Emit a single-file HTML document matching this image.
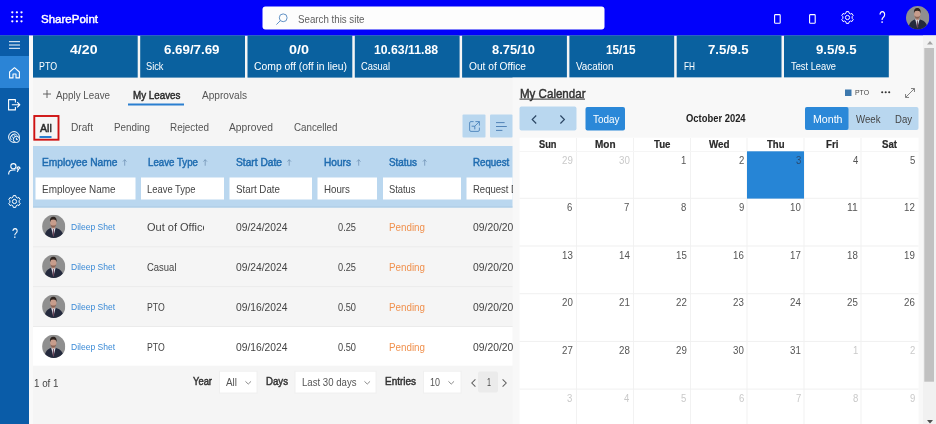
<!DOCTYPE html>
<html><head><meta charset="utf-8"><title>SharePoint</title>
<style>
html,body{margin:0;padding:0}
body{width:936px;height:424px;overflow:hidden;background:#f5f5f5;font-family:"Liberation Sans", sans-serif;position:relative}
.t{position:absolute;white-space:nowrap;line-height:1;transform-origin:left center}
svg{overflow:visible}
</style></head><body>
<svg width="0" height="0" style="position:absolute"><defs>
<clipPath id="avc"><circle cx="11.5" cy="11.5" r="11.5"/></clipPath>
</defs></svg>

<svg style="position:absolute;left:0;top:0" width="936" height="424" viewBox="0 0 936 424">
<rect x="0" y="0" width="936" height="35.6" fill="#0101fb" rx="0"/>
<rect x="262.5" y="6.5" width="342.0" height="23.0" fill="#fdfdfd" rx="3"/>
<rect x="0" y="35.3" width="29" height="388.7" fill="#0a5ca8" rx="0"/>
<rect x="0" y="56" width="29" height="32" fill="#2b84d6" rx="0"/>
<rect x="32.9" y="35.4" width="104.8" height="42.2" fill="#0a619f" rx="0"/>
<rect x="140.2" y="35.4" width="104.8" height="42.2" fill="#0a619f" rx="0"/>
<rect x="247.5" y="35.4" width="104.8" height="42.2" fill="#0a619f" rx="0"/>
<rect x="354.8" y="35.4" width="104.8" height="42.2" fill="#0a619f" rx="0"/>
<rect x="462.1" y="35.4" width="104.8" height="42.2" fill="#0a619f" rx="0"/>
<rect x="569.4" y="35.4" width="104.8" height="42.2" fill="#0a619f" rx="0"/>
<rect x="676.7" y="35.4" width="104.8" height="42.2" fill="#0a619f" rx="0"/>
<rect x="784.0" y="35.4" width="104.8" height="42.2" fill="#0a619f" rx="0"/>
<rect x="128" y="103.5" width="56" height="2.0" fill="#2b7fd0" rx="0"/>
<rect x="39.5" y="136" width="12.0" height="2" fill="#2b7fd0" rx="0"/>
<rect x="34.3" y="116" width="24.2" height="23.7" fill="none" stroke="#cf1212" stroke-width="1.9"/>
<rect x="512.5" y="77.6" width="410.5" height="346.4" fill="#f8f8f8" rx="0"/>
<rect x="889.5" y="35.6" width="33.5" height="42.0" fill="#f8f8f8" rx="0"/>
<rect x="29" y="35.6" width="4" height="388.4" fill="#f9f9f9" rx="0"/>
<rect x="462.5" y="114.5" width="23.0" height="23.0" fill="#b9d7ef" rx="1"/>
<rect x="490" y="114.5" width="22.5" height="23.0" fill="#b9d7ef" rx="1"/>
<rect x="33" y="146" width="479.5" height="61.5" fill="#bad7ef" rx="0"/>
<rect x="33" y="206.5" width="479.5" height="1.0" fill="#a9c9e4" rx="0"/>
<svg x="122.5" y="159.2" width="4.4" height="6.5" viewBox="0 0 4.4 6.5" fill="none" stroke="#6c8fb2" stroke-width="0.75"><path d="M2.2 0.5 V6.5 M0.4 2.4 L2.2 0.5 L4 2.4"/></svg>
<svg x="203" y="159.2" width="4.4" height="6.5" viewBox="0 0 4.4 6.5" fill="none" stroke="#6c8fb2" stroke-width="0.75"><path d="M2.2 0.5 V6.5 M0.4 2.4 L2.2 0.5 L4 2.4"/></svg>
<svg x="287" y="159.2" width="4.4" height="6.5" viewBox="0 0 4.4 6.5" fill="none" stroke="#6c8fb2" stroke-width="0.75"><path d="M2.2 0.5 V6.5 M0.4 2.4 L2.2 0.5 L4 2.4"/></svg>
<svg x="356.5" y="159.2" width="4.4" height="6.5" viewBox="0 0 4.4 6.5" fill="none" stroke="#6c8fb2" stroke-width="0.75"><path d="M2.2 0.5 V6.5 M0.4 2.4 L2.2 0.5 L4 2.4"/></svg>
<svg x="422.5" y="159.2" width="4.4" height="6.5" viewBox="0 0 4.4 6.5" fill="none" stroke="#6c8fb2" stroke-width="0.75"><path d="M2.2 0.5 V6.5 M0.4 2.4 L2.2 0.5 L4 2.4"/></svg>
<rect x="35.5" y="177.5" width="100.0" height="22.0" fill="#fff" rx="0"/>
<rect x="141" y="177.5" width="83" height="22.0" fill="#fff" rx="0"/>
<rect x="229.5" y="177.5" width="82.5" height="22.0" fill="#fff" rx="0"/>
<rect x="317.5" y="177.5" width="59.5" height="22.0" fill="#fff" rx="0"/>
<rect x="383" y="177.5" width="78" height="22.0" fill="#fff" rx="0"/>
<rect x="466.5" y="177.5" width="46.0" height="22.0" fill="#fff" rx="0"/>
<rect x="33" y="246.3" width="479.5" height="1.0" fill="#ebebeb" rx="0"/>
<svg x="42.1" y="214.8" width="23.2" height="23.2" viewBox="0 0 23 23"><g clip-path="url(#avc)">
<rect width="23" height="23" fill="#8f8f8f"/>
<path d="M2.2 23 C2.8 16.5 5.2 14.6 8.6 13.2 L11.2 12.4 L13.8 13.2 C17.6 14.4 20.6 16 21.6 23 Z" fill="#242a3d"/>
<path d="M9 12.8 L11.2 21.5 L13.4 12.8 Z" fill="#dfe0e8"/>
<path d="M10.8 14.2 L11.6 14.2 L12 20 L11.2 22 L10.5 20 Z" fill="#6a4458"/>
<rect x="9.6" y="10" width="3.2" height="3.6" fill="#b98a78"/>
<ellipse cx="11.1" cy="8" rx="3.1" ry="4.3" fill="#c89d8c"/>
<path d="M7.9 7.4 C7.4 3 9.4 1.9 11.2 1.9 C13.2 1.9 14.9 3.2 14.3 7.4 C13.9 5.4 13.2 4.7 11.1 4.7 C9 4.7 8.3 5.4 7.9 7.4 Z" fill="#2e2420"/>
<path d="M8.1 8.8 C8.5 11.8 9.8 12.5 11.1 12.5 C12.4 12.5 13.7 11.8 14.1 8.8 C13.4 10.3 12.4 10.6 11.1 10.6 C9.8 10.6 8.8 10.3 8.1 8.8 Z" fill="#6e4c40" opacity=".7"/>
</g></svg>
<rect x="33" y="286.1" width="479.5" height="1.0" fill="#ebebeb" rx="0"/>
<svg x="42.1" y="254.8" width="23.2" height="23.2" viewBox="0 0 23 23"><g clip-path="url(#avc)">
<rect width="23" height="23" fill="#8f8f8f"/>
<path d="M2.2 23 C2.8 16.5 5.2 14.6 8.6 13.2 L11.2 12.4 L13.8 13.2 C17.6 14.4 20.6 16 21.6 23 Z" fill="#242a3d"/>
<path d="M9 12.8 L11.2 21.5 L13.4 12.8 Z" fill="#dfe0e8"/>
<path d="M10.8 14.2 L11.6 14.2 L12 20 L11.2 22 L10.5 20 Z" fill="#6a4458"/>
<rect x="9.6" y="10" width="3.2" height="3.6" fill="#b98a78"/>
<ellipse cx="11.1" cy="8" rx="3.1" ry="4.3" fill="#c89d8c"/>
<path d="M7.9 7.4 C7.4 3 9.4 1.9 11.2 1.9 C13.2 1.9 14.9 3.2 14.3 7.4 C13.9 5.4 13.2 4.7 11.1 4.7 C9 4.7 8.3 5.4 7.9 7.4 Z" fill="#2e2420"/>
<path d="M8.1 8.8 C8.5 11.8 9.8 12.5 11.1 12.5 C12.4 12.5 13.7 11.8 14.1 8.8 C13.4 10.3 12.4 10.6 11.1 10.6 C9.8 10.6 8.8 10.3 8.1 8.8 Z" fill="#6e4c40" opacity=".7"/>
</g></svg>
<rect x="33" y="326" width="479.5" height="1" fill="#ebebeb" rx="0"/>
<svg x="42.1" y="294.8" width="23.2" height="23.2" viewBox="0 0 23 23"><g clip-path="url(#avc)">
<rect width="23" height="23" fill="#8f8f8f"/>
<path d="M2.2 23 C2.8 16.5 5.2 14.6 8.6 13.2 L11.2 12.4 L13.8 13.2 C17.6 14.4 20.6 16 21.6 23 Z" fill="#242a3d"/>
<path d="M9 12.8 L11.2 21.5 L13.4 12.8 Z" fill="#dfe0e8"/>
<path d="M10.8 14.2 L11.6 14.2 L12 20 L11.2 22 L10.5 20 Z" fill="#6a4458"/>
<rect x="9.6" y="10" width="3.2" height="3.6" fill="#b98a78"/>
<ellipse cx="11.1" cy="8" rx="3.1" ry="4.3" fill="#c89d8c"/>
<path d="M7.9 7.4 C7.4 3 9.4 1.9 11.2 1.9 C13.2 1.9 14.9 3.2 14.3 7.4 C13.9 5.4 13.2 4.7 11.1 4.7 C9 4.7 8.3 5.4 7.9 7.4 Z" fill="#2e2420"/>
<path d="M8.1 8.8 C8.5 11.8 9.8 12.5 11.1 12.5 C12.4 12.5 13.7 11.8 14.1 8.8 C13.4 10.3 12.4 10.6 11.1 10.6 C9.8 10.6 8.8 10.3 8.1 8.8 Z" fill="#6e4c40" opacity=".7"/>
</g></svg>
<rect x="33" y="327" width="479.5" height="38.7" fill="#fff" rx="0"/>
<svg x="42.1" y="334.8" width="23.2" height="23.2" viewBox="0 0 23 23"><g clip-path="url(#avc)">
<rect width="23" height="23" fill="#8f8f8f"/>
<path d="M2.2 23 C2.8 16.5 5.2 14.6 8.6 13.2 L11.2 12.4 L13.8 13.2 C17.6 14.4 20.6 16 21.6 23 Z" fill="#242a3d"/>
<path d="M9 12.8 L11.2 21.5 L13.4 12.8 Z" fill="#dfe0e8"/>
<path d="M10.8 14.2 L11.6 14.2 L12 20 L11.2 22 L10.5 20 Z" fill="#6a4458"/>
<rect x="9.6" y="10" width="3.2" height="3.6" fill="#b98a78"/>
<ellipse cx="11.1" cy="8" rx="3.1" ry="4.3" fill="#c89d8c"/>
<path d="M7.9 7.4 C7.4 3 9.4 1.9 11.2 1.9 C13.2 1.9 14.9 3.2 14.3 7.4 C13.9 5.4 13.2 4.7 11.1 4.7 C9 4.7 8.3 5.4 7.9 7.4 Z" fill="#2e2420"/>
<path d="M8.1 8.8 C8.5 11.8 9.8 12.5 11.1 12.5 C12.4 12.5 13.7 11.8 14.1 8.8 C13.4 10.3 12.4 10.6 11.1 10.6 C9.8 10.6 8.8 10.3 8.1 8.8 Z" fill="#6e4c40" opacity=".7"/>
</g></svg>
<rect x="219.5" y="371.2" width="37.5" height="21.8" fill="#fff" rx="0" stroke="#f0f0f0" stroke-width="1"/>
<rect x="295" y="371.2" width="81" height="21.8" fill="#fff" rx="0" stroke="#f0f0f0" stroke-width="1"/>
<rect x="423.5" y="371.2" width="37.5" height="21.8" fill="#fff" rx="0" stroke="#f0f0f0" stroke-width="1"/>
<rect x="478" y="371.5" width="20" height="21.0" fill="#ebebeb" rx="2"/>
<rect x="519.5" y="98.6" width="65.5" height="1.0" fill="#333" rx="0"/>
<rect x="845" y="89.5" width="6.5" height="6.5" fill="#3d78ad" rx="0"/>
<rect x="519.5" y="106.5" width="57.0" height="24.0" fill="#b9d7ef" rx="2"/>
<rect x="585.5" y="107" width="39.5" height="23.5" fill="#2b88d8" rx="2"/>
<rect x="805" y="107" width="113.5" height="23" fill="#b9d7ef" rx="2"/>
<rect x="805" y="107" width="43.5" height="23" fill="#2b88d8" rx="2"/>
<rect x="519.6" y="137.7" width="398.9" height="286.3" fill="#fff" rx="0"/>
<rect x="576.0" y="138" width="1.0" height="286" fill="#f2f2f2" rx="0"/>
<rect x="633.0" y="138" width="1.0" height="286" fill="#f2f2f2" rx="0"/>
<rect x="690.0" y="138" width="1.0" height="286" fill="#f2f2f2" rx="0"/>
<rect x="746.5" y="138" width="1.0" height="286" fill="#f2f2f2" rx="0"/>
<rect x="803.5" y="138" width="1.0" height="286" fill="#f2f2f2" rx="0"/>
<rect x="860.5" y="138" width="1.0" height="286" fill="#f2f2f2" rx="0"/>
<rect x="519.6" y="151.0" width="398.9" height="1.0" fill="#f5f5f5" rx="0"/>
<rect x="519.6" y="197.8" width="398.9" height="1.0" fill="#f0f0f0" rx="0"/>
<rect x="519.6" y="245.5" width="398.9" height="1.0" fill="#f0f0f0" rx="0"/>
<rect x="519.6" y="293.2" width="398.9" height="1.0" fill="#f0f0f0" rx="0"/>
<rect x="519.6" y="340.9" width="398.9" height="1.0" fill="#f0f0f0" rx="0"/>
<rect x="519.6" y="388.6" width="398.9" height="1.0" fill="#f0f0f0" rx="0"/>
<rect x="747" y="151.3" width="57" height="47.3" fill="#2685d6" rx="0"/>
<rect x="923" y="35.3" width="13" height="388.7" fill="#f1f1f1" rx="0"/>
<rect x="924.3" y="48" width="9.7" height="333.7" fill="#c1c1c1" rx="0"/>
</svg>
<!-- waffle -->
<svg style="position:absolute;left:11.4px;top:10.9px" width="12" height="12" viewBox="0 0 12 12" fill="#fff">
<circle cx="1.3" cy="1.3" r="1.15"/><circle cx="5.9" cy="1.3" r="1.15"/><circle cx="10.5" cy="1.3" r="1.15"/>
<circle cx="1.3" cy="5.8" r="1.15"/><circle cx="5.9" cy="5.8" r="1.15"/><circle cx="10.5" cy="5.8" r="1.15"/>
<circle cx="1.3" cy="10.3" r="1.15"/><circle cx="5.9" cy="10.3" r="1.15"/><circle cx="10.5" cy="10.3" r="1.15"/>
</svg>
<!-- search -->
<svg style="position:absolute;left:276px;top:12.5px" width="12" height="12" viewBox="0 0 12 12" fill="none" stroke="#5a8cc2" stroke-width="0.95">
<circle cx="7.2" cy="4.8" r="3.9"/><path d="M4.4 7.6 L0.4 11.6"/>
</svg>
<!-- top right -->
<svg style="position:absolute;left:774.3px;top:13.5px" width="7" height="10" viewBox="0 0 7 10" fill="none" stroke="#fff" stroke-width="1.1"><rect x="0.6" y="0.6" width="5.6" height="8.6" rx="0.8"/></svg>
<svg style="position:absolute;left:809.2px;top:13.5px" width="7" height="10" viewBox="0 0 7 10" fill="none" stroke="#fff" stroke-width="1.1"><rect x="0.6" y="0.6" width="5.6" height="8.6" rx="0.8"/></svg>
<svg style="position:absolute;left:841.1px;top:10.5px" width="13" height="13" viewBox="-6.5 -6.5 13 13" fill="none" stroke="#fff" stroke-width="1"><circle r="2.1"/><path d="M-1.2 -5.9 L1.2 -5.9 L1.6 -4.3 L3.0 -3.5 L4.5 -4.0 L5.7 -1.9 L4.6 -0.8 L4.6 0.8 L5.7 1.9 L4.5 4.0 L3.0 3.5 L1.6 4.3 L1.2 5.9 L-1.2 5.9 L-1.6 4.3 L-3.0 3.5 L-4.5 4.0 L-5.7 1.9 L-4.6 0.8 L-4.6 -0.8 L-5.7 -1.9 L-4.5 -4.0 L-3.0 -3.5 L-1.6 -4.3 Z" stroke-linejoin="round"/></svg>

<svg style="position:absolute;left:906.3px;top:6.2px" width="23.4" height="23.4" viewBox="0 0 23 23"><g clip-path="url(#avc)">
<rect width="23" height="23" fill="#8f8f8f"/>
<path d="M2.2 23 C2.8 16.5 5.2 14.6 8.6 13.2 L11.2 12.4 L13.8 13.2 C17.6 14.4 20.6 16 21.6 23 Z" fill="#242a3d"/>
<path d="M9 12.8 L11.2 21.5 L13.4 12.8 Z" fill="#dfe0e8"/>
<path d="M10.8 14.2 L11.6 14.2 L12 20 L11.2 22 L10.5 20 Z" fill="#6a4458"/>
<rect x="9.6" y="10" width="3.2" height="3.6" fill="#b98a78"/>
<ellipse cx="11.1" cy="8" rx="3.1" ry="4.3" fill="#c89d8c"/>
<path d="M7.9 7.4 C7.4 3 9.4 1.9 11.2 1.9 C13.2 1.9 14.9 3.2 14.3 7.4 C13.9 5.4 13.2 4.7 11.1 4.7 C9 4.7 8.3 5.4 7.9 7.4 Z" fill="#2e2420"/>
<path d="M8.1 8.8 C8.5 11.8 9.8 12.5 11.1 12.5 C12.4 12.5 13.7 11.8 14.1 8.8 C13.4 10.3 12.4 10.6 11.1 10.6 C9.8 10.6 8.8 10.3 8.1 8.8 Z" fill="#6e4c40" opacity=".7"/>
</g></svg>
<!-- sidebar -->
<svg style="position:absolute;left:8.5px;top:41px" width="11" height="8" viewBox="0 0 11 8" stroke="#fff" stroke-width="1"><path d="M0 0.7H11M0 4H11M0 7.3H11"/></svg>
<svg style="position:absolute;left:9px;top:66.5px" width="11" height="11.5" viewBox="0 0 11 11.5" fill="none" stroke="#fff" stroke-width="1.1" stroke-linejoin="round"><path d="M0.6 5 L5.5 0.7 L10.4 5 V10.9 H7 V7 H4 V10.9 H0.6 Z"/></svg>
<svg style="position:absolute;left:8px;top:98.5px" width="12.5" height="11.5" viewBox="0 0 12.5 11.5" fill="none" stroke="#fff" stroke-width="1.1" stroke-linejoin="round"><path d="M7.4 3.4 V0.6 H0.6 V10.9 H7.4 V8.1"/><path d="M3.8 5.75 H11.6 M9.2 3.2 L11.8 5.75 L9.2 8.3"/></svg>
<svg style="position:absolute;left:8px;top:131.2px" width="12.5" height="12.5" viewBox="0 0 12.5 12.5" fill="none" stroke="#fff" stroke-width="1"><circle cx="6" cy="6" r="5.4"/><path d="M3.2 9 A3.7 3.7 0 1 1 9.4 4.6" stroke-width="0.9"/><path d="M4.6 6.6 A1.6 1.6 0 1 1 7 4.8" stroke-width="0.8"/><circle cx="8.4" cy="8.4" r="3.1" fill="#0a5ca8"/><path d="M8.4 6.8 V8.6 H9.8"/></svg>
<svg style="position:absolute;left:8px;top:163px" width="13" height="12" viewBox="0 0 13 12" fill="none" stroke="#fff" stroke-width="1.1"><circle cx="5.4" cy="3.2" r="2.6"/><path d="M0.7 11.6 V10.6 C0.8 8.2 2.4 7 5.2 7 H7.6"/><path d="M10.9 5.6 L9.2 9 M11.6 6.2 A1.4 1.4 0 1 0 9.6 6.4" stroke-width="1.2"/></svg>
<svg style="position:absolute;left:8px;top:194.5px" width="13" height="13" viewBox="-6.5 -6.5 13 13" fill="none" stroke="#fff" stroke-width="1"><circle r="2.1"/><path d="M-1.2 -5.9 L1.2 -5.9 L1.6 -4.3 L3.0 -3.5 L4.5 -4.0 L5.7 -1.9 L4.6 -0.8 L4.6 0.8 L5.7 1.9 L4.5 4.0 L3.0 3.5 L1.6 4.3 L1.2 5.9 L-1.2 5.9 L-1.6 4.3 L-3.0 3.5 L-4.5 4.0 L-5.7 1.9 L-4.6 0.8 L-4.6 -0.8 L-5.7 -1.9 L-4.5 -4.0 L-3.0 -3.5 L-1.6 -4.3 Z" stroke-linejoin="round"/></svg>
<!-- plus -->
<svg style="position:absolute;left:43px;top:90px" width="8" height="8" viewBox="0 0 8 8" stroke="#555" stroke-width="0.9"><path d="M4 0V8M0 4H8"/></svg>
<!-- icon buttons -->
<svg style="position:absolute;left:468.5px;top:120.5px" width="11" height="11" viewBox="0 0 11 11" fill="none" stroke="#467fb8" stroke-width="0.85"><path d="M4.6 0.6 H2 Q0.6 0.6 0.6 2 V9 Q0.6 10.4 2 10.4 H9 Q10.4 10.4 10.4 9 V6.6"/><path d="M6.4 0.6 H10.4 V4.6 M10.4 0.6 L5.6 5.4"/><path d="M2.6 5.2 H5.8 V8.4" stroke-width="0.9"/></svg>
<svg style="position:absolute;left:496px;top:121.5px" width="11" height="9" viewBox="0 0 11 9" stroke="#3f74ac" stroke-width="0.85"><path d="M0 0.6H8.6M0 4.5H10.8M0 8.4H6.4"/></svg>
<!-- calendar chevrons -->
<svg style="position:absolute;left:530.5px;top:114.8px" width="7" height="9" viewBox="0 0 7 9" fill="none" stroke="#2b4563" stroke-width="1.15"><path d="M5.2 0.5 L1.2 4.5 L5.2 8.5"/></svg>
<svg style="position:absolute;left:559.3px;top:114.8px" width="7" height="9" viewBox="0 0 7 9" fill="none" stroke="#2b4563" stroke-width="1.15"><path d="M1.4 0.5 L5.4 4.5 L1.4 8.5"/></svg>
<!-- select chevrons -->
<svg style="position:absolute;left:245px;top:381.2px" width="6.5" height="3.6" viewBox="0 0 7 4" fill="none" stroke="#777" stroke-width="0.95"><path d="M0.4 0.4 L3.5 3.4 L6.6 0.4"/></svg>
<svg style="position:absolute;left:363.5px;top:381.2px" width="6.5" height="3.6" viewBox="0 0 7 4" fill="none" stroke="#777" stroke-width="0.95"><path d="M0.4 0.4 L3.5 3.4 L6.6 0.4"/></svg>
<svg style="position:absolute;left:448px;top:381.2px" width="6.5" height="3.6" viewBox="0 0 7 4" fill="none" stroke="#777" stroke-width="0.95"><path d="M0.4 0.4 L3.5 3.4 L6.6 0.4"/></svg>
<!-- pager chevrons -->
<svg style="position:absolute;left:471px;top:379px" width="5" height="8" viewBox="0 0 5 8" fill="none" stroke="#5f5f5f" stroke-width="1.05"><path d="M4.4 0.4 L0.8 4 L4.4 7.6"/></svg>
<svg style="position:absolute;left:502px;top:379px" width="5" height="8" viewBox="0 0 5 8" fill="none" stroke="#5f5f5f" stroke-width="1.05"><path d="M0.6 0.4 L4.2 4 L0.6 7.6"/></svg>
<!-- more + expand -->
<svg style="position:absolute;left:881px;top:91px" width="10" height="3" viewBox="0 0 10 3" fill="#333"><circle cx="1.2" cy="1.3" r="1.05"/><circle cx="4.7" cy="1.3" r="1.05"/><circle cx="8.2" cy="1.3" r="1.05"/></svg>
<svg style="position:absolute;left:905.3px;top:87.6px" width="10" height="10" viewBox="0 0 11 11" fill="none" stroke="#666" stroke-width="0.9"><path d="M0.8 10.2 L10.2 0.8 M6.6 0.6 H10.4 V4.4 M0.6 6.6 V10.4 H4.4"/></svg>
<!-- scroll arrows -->
<svg style="position:absolute;left:926.5px;top:40.5px" width="6" height="3.5" viewBox="0 0 6 3.5" fill="#a3a3a3"><path d="M0 3.5 L3 0 L6 3.5 Z"/></svg>
<svg style="position:absolute;left:926.5px;top:419.6px" width="6" height="3.5" viewBox="0 0 6 3.5" fill="#505050"><path d="M0 0 L3 3.5 L6 0 Z"/></svg>

<span class="t" id="t0" style="left:70px;top:49.8px;font-size:12.8px;color:#fff;font-weight:700;transform:translateY(-50%) scaleX(1.1034);">4/20</span>
<span class="t" id="t1" style="left:39px;top:67.2px;font-size:10.3px;color:#fff;font-weight:400;transform:translateY(-50%) scaleX(0.8578);">PTO</span>
<span class="t" id="t2" style="left:163.5px;top:49.8px;font-size:12.8px;color:#fff;font-weight:700;transform:translateY(-50%) scaleX(1.0398);">6.69/7.69</span>
<span class="t" id="t3" style="left:146px;top:67.2px;font-size:10.3px;color:#fff;font-weight:400;transform:translateY(-50%) scaleX(0.8996);">Sick</span>
<span class="t" id="t4" style="left:288.5px;top:49.8px;font-size:12.8px;color:#fff;font-weight:700;transform:translateY(-50%) scaleX(1.1238);">0/0</span>
<span class="t" id="t5" style="left:254px;top:67.2px;font-size:10.3px;color:#fff;font-weight:400;transform:translateY(-50%) scaleX(1.0071);">Comp off (off in lieu)</span>
<span class="t" id="t6" style="left:374px;top:49.8px;font-size:12.8px;color:#fff;font-weight:700;transform:translateY(-50%) scaleX(0.9566);">10.63/11.88</span>
<span class="t" id="t7" style="left:361px;top:67.2px;font-size:10.3px;color:#fff;font-weight:400;transform:translateY(-50%) scaleX(0.9045);">Casual</span>
<span class="t" id="t8" style="left:492px;top:49.8px;font-size:12.8px;color:#fff;font-weight:700;transform:translateY(-50%) scaleX(1.0070);">8.75/10</span>
<span class="t" id="t9" style="left:469px;top:67.2px;font-size:10.3px;color:#fff;font-weight:400;transform:translateY(-50%) scaleX(0.9892);">Out of Office</span>
<span class="t" id="t10" style="left:606px;top:49.8px;font-size:12.8px;color:#fff;font-weight:700;transform:translateY(-50%) scaleX(0.9210);">15/15</span>
<span class="t" id="t11" style="left:576px;top:67.2px;font-size:10.3px;color:#fff;font-weight:400;transform:translateY(-50%) scaleX(0.9539);">Vacation</span>
<span class="t" id="t12" style="left:708px;top:49.8px;font-size:12.8px;color:#fff;font-weight:700;transform:translateY(-50%) scaleX(1.0347);">7.5/9.5</span>
<span class="t" id="t13" style="left:683.5px;top:67.2px;font-size:10.3px;color:#fff;font-weight:400;transform:translateY(-50%) scaleX(0.8009);">FH</span>
<span class="t" id="t14" style="left:815.5px;top:49.8px;font-size:12.8px;color:#fff;font-weight:700;transform:translateY(-50%) scaleX(1.0347);">9.5/9.5</span>
<span class="t" id="t15" style="left:791px;top:67.2px;font-size:10.3px;color:#fff;font-weight:400;transform:translateY(-50%) scaleX(0.9034);">Test Leave</span>
<span class="t" id="t16" style="left:41px;top:18.6px;font-size:11.6px;color:#fff;font-weight:400;-webkit-text-stroke:0.45px #fff;transform:translateY(-50%) scaleX(0.9935);">SharePoint</span>
<span class="t" id="t17" style="left:298px;top:19.5px;font-size:10px;color:#606060;font-weight:400;transform:translateY(-50%) scaleX(0.9726);">Search this site</span>
<span class="t" id="t18" style="left:879px;top:17.6px;font-size:16.6px;color:#fff;font-weight:400;transform:translateY(-50%) scaleX(0.7147);">?</span>
<span class="t" id="t19" style="left:11.6px;top:233.2px;font-size:14.6px;color:#fff;font-weight:400;transform:translateY(-50%) scaleX(0.7385);">?</span>
<span class="t" id="t20" style="left:56px;top:95.7px;font-size:10.2px;color:#555;font-weight:400;transform:translateY(-50%) scaleX(0.9629);">Apply Leave</span>
<span class="t" id="t21" style="left:132.5px;top:95.7px;font-size:10.4px;color:#2a2a2a;font-weight:400;-webkit-text-stroke:0.45px #2a2a2a;transform:translateY(-50%) scaleX(0.9453);">My Leaves</span>
<span class="t" id="t22" style="left:202px;top:95.7px;font-size:10.2px;color:#555;font-weight:400;transform:translateY(-50%) scaleX(0.9931);">Approvals</span>
<span class="t" id="t23" style="left:39.5px;top:128.7px;font-size:10.1px;color:#2a2a2a;font-weight:400;-webkit-text-stroke:0.45px #2a2a2a;transform:translateY(-50%) scaleX(1.0474);">All</span>
<span class="t" id="t24" style="left:71px;top:128.3px;font-size:10.2px;color:#555;font-weight:400;transform:translateY(-50%) scaleX(0.9965);">Draft</span>
<span class="t" id="t25" style="left:114px;top:128.3px;font-size:10.2px;color:#555;font-weight:400;transform:translateY(-50%) scaleX(0.9628);">Pending</span>
<span class="t" id="t26" style="left:170px;top:128.3px;font-size:10.2px;color:#555;font-weight:400;transform:translateY(-50%) scaleX(0.9697);">Rejected</span>
<span class="t" id="t27" style="left:229px;top:128.3px;font-size:10.2px;color:#555;font-weight:400;transform:translateY(-50%) scaleX(1.0086);">Approved</span>
<span class="t" id="t28" style="left:294px;top:128.3px;font-size:10.2px;color:#555;font-weight:400;transform:translateY(-50%) scaleX(0.9600);">Cancelled</span>
<span class="t" id="t29" style="left:41.5px;top:162.7px;font-size:10.1px;color:#1f6cb0;font-weight:400;-webkit-text-stroke:0.45px #1f6cb0;transform:translateY(-50%) scaleX(1.0117);">Employee Name</span>
<span class="t" id="t30" style="left:147.5px;top:162.7px;font-size:10.1px;color:#1f6cb0;font-weight:400;-webkit-text-stroke:0.45px #1f6cb0;transform:translateY(-50%) scaleX(0.9612);">Leave Type</span>
<span class="t" id="t31" style="left:235.5px;top:162.7px;font-size:10.1px;color:#1f6cb0;font-weight:400;-webkit-text-stroke:0.45px #1f6cb0;transform:translateY(-50%) scaleX(1.0120);">Start Date</span>
<span class="t" id="t32" style="left:324px;top:162.7px;font-size:10.1px;color:#1f6cb0;font-weight:400;-webkit-text-stroke:0.45px #1f6cb0;transform:translateY(-50%) scaleX(1.0023);">Hours</span>
<span class="t" id="t33" style="left:389px;top:162.7px;font-size:10.1px;color:#1f6cb0;font-weight:400;-webkit-text-stroke:0.45px #1f6cb0;transform:translateY(-50%) scaleX(0.9782);">Status</span>
<span class="t" id="t34" style="left:41.5px;top:189.8px;font-size:10.2px;color:#444;font-weight:400;transform:translateY(-50%) scaleX(0.9759);">Employee Name</span>
<span class="t" id="t35" style="left:147px;top:189.8px;font-size:10.2px;color:#444;font-weight:400;transform:translateY(-50%) scaleX(0.9238);">Leave Type</span>
<span class="t" id="t36" style="left:235.5px;top:189.8px;font-size:10.2px;color:#444;font-weight:400;transform:translateY(-50%) scaleX(0.9591);">Start Date</span>
<span class="t" id="t37" style="left:324px;top:189.8px;font-size:10.2px;color:#444;font-weight:400;transform:translateY(-50%) scaleX(0.9563);">Hours</span>
<span class="t" id="t38" style="left:389px;top:189.8px;font-size:10.2px;color:#444;font-weight:400;transform:translateY(-50%) scaleX(0.9173);">Status</span>
<span class="t" id="t39" style="left:472.5px;top:162.7px;font-size:10.1px;color:#1f6cb0;font-weight:400;-webkit-text-stroke:0.45px #1f6cb0;transform:translateY(-50%) scaleX(0.9652);">Request</span>
<div style="position:absolute;left:0;top:0;width:512.5px;height:424px;overflow:hidden"><span class="t" id="t40" style="left:472.5px;top:189.8px;font-size:10.2px;color:#444;font-weight:400;transform:translateY(-50%) scaleX(0.9342);">Request Date</span></div>
<span class="t" id="t41" style="left:70.5px;top:227.5px;font-size:9.2px;color:#3a8ad6;font-weight:400;transform:translateY(-50%) scaleX(0.9263);">Dileep Shet</span>
<div style="position:absolute;left:0;top:0;width:203.5px;height:424px;overflow:hidden"><span class="t" id="t42" style="left:147px;top:227.5px;font-size:10.4px;color:#444;font-weight:400;transform:translateY(-50%) scaleX(1.0578);">Out of Office</span></div>
<span class="t" id="t43" style="left:235.5px;top:227.5px;font-size:10.4px;color:#444;font-weight:400;transform:translateY(-50%) scaleX(0.9901);">09/24/2024</span>
<span class="t" id="t44" style="left:338px;top:227.5px;font-size:10.4px;color:#444;font-weight:400;transform:translateY(-50%) scaleX(0.8896);">0.25</span>
<span class="t" id="t45" style="left:389px;top:227.5px;font-size:10.4px;color:#f0914e;font-weight:400;transform:translateY(-50%) scaleX(0.9439);">Pending</span>
<div style="position:absolute;left:0;top:0;width:512.6px;height:424px;overflow:hidden"><span class="t" id="t46" style="left:472.5px;top:227.5px;font-size:10.4px;color:#444;font-weight:400;transform:translateY(-50%) scaleX(0.9959);">09/20/2024</span></div>
<span class="t" id="t47" style="left:70.5px;top:267.5px;font-size:9.2px;color:#3a8ad6;font-weight:400;transform:translateY(-50%) scaleX(0.9263);">Dileep Shet</span>
<span class="t" id="t48" style="left:147px;top:267.5px;font-size:10.4px;color:#444;font-weight:400;transform:translateY(-50%) scaleX(0.9116);">Casual</span>
<span class="t" id="t49" style="left:235.5px;top:267.5px;font-size:10.4px;color:#444;font-weight:400;transform:translateY(-50%) scaleX(0.9901);">09/24/2024</span>
<span class="t" id="t50" style="left:338px;top:267.5px;font-size:10.4px;color:#444;font-weight:400;transform:translateY(-50%) scaleX(0.8896);">0.25</span>
<span class="t" id="t51" style="left:389px;top:267.5px;font-size:10.4px;color:#f0914e;font-weight:400;transform:translateY(-50%) scaleX(0.9439);">Pending</span>
<div style="position:absolute;left:0;top:0;width:512.6px;height:424px;overflow:hidden"><span class="t" id="t52" style="left:472.5px;top:267.5px;font-size:10.4px;color:#444;font-weight:400;transform:translateY(-50%) scaleX(0.9959);">09/20/2024</span></div>
<span class="t" id="t53" style="left:70.5px;top:307.5px;font-size:9.2px;color:#3a8ad6;font-weight:400;transform:translateY(-50%) scaleX(0.9263);">Dileep Shet</span>
<span class="t" id="t54" style="left:147.3px;top:307.5px;font-size:10.4px;color:#444;font-weight:400;transform:translateY(-50%) scaleX(0.8360);">PTO</span>
<span class="t" id="t55" style="left:235.5px;top:307.5px;font-size:10.4px;color:#444;font-weight:400;transform:translateY(-50%) scaleX(0.9901);">09/16/2024</span>
<span class="t" id="t56" style="left:338px;top:307.5px;font-size:10.4px;color:#444;font-weight:400;transform:translateY(-50%) scaleX(0.8896);">0.50</span>
<span class="t" id="t57" style="left:389px;top:307.5px;font-size:10.4px;color:#f0914e;font-weight:400;transform:translateY(-50%) scaleX(0.9439);">Pending</span>
<div style="position:absolute;left:0;top:0;width:512.6px;height:424px;overflow:hidden"><span class="t" id="t58" style="left:472.5px;top:307.5px;font-size:10.4px;color:#444;font-weight:400;transform:translateY(-50%) scaleX(0.9959);">09/20/2024</span></div>
<span class="t" id="t59" style="left:70.5px;top:347.5px;font-size:9.2px;color:#3a8ad6;font-weight:400;transform:translateY(-50%) scaleX(0.9263);">Dileep Shet</span>
<span class="t" id="t60" style="left:147.3px;top:347.5px;font-size:10.4px;color:#444;font-weight:400;transform:translateY(-50%) scaleX(0.8360);">PTO</span>
<span class="t" id="t61" style="left:235.5px;top:347.5px;font-size:10.4px;color:#444;font-weight:400;transform:translateY(-50%) scaleX(0.9901);">09/16/2024</span>
<span class="t" id="t62" style="left:338px;top:347.5px;font-size:10.4px;color:#444;font-weight:400;transform:translateY(-50%) scaleX(0.8896);">0.50</span>
<span class="t" id="t63" style="left:389px;top:347.5px;font-size:10.4px;color:#f0914e;font-weight:400;transform:translateY(-50%) scaleX(0.9439);">Pending</span>
<div style="position:absolute;left:0;top:0;width:512.6px;height:424px;overflow:hidden"><span class="t" id="t64" style="left:472.5px;top:347.5px;font-size:10.4px;color:#444;font-weight:400;transform:translateY(-50%) scaleX(0.9959);">09/20/2024</span></div>
<span class="t" id="t65" style="left:33.5px;top:383.8px;font-size:10.4px;color:#444;font-weight:400;transform:translateY(-50%) scaleX(0.9423);">1 of 1</span>
<span class="t" id="t66" style="left:192.5px;top:382px;font-size:10px;color:#333;font-weight:400;-webkit-text-stroke:0.45px #333;transform:translateY(-50%) scaleX(0.9397);">Year</span>
<span class="t" id="t67" style="left:226px;top:383px;font-size:10.2px;color:#555;font-weight:400;transform:translateY(-50%) scaleX(0.9710);">All</span>
<span class="t" id="t68" style="left:265.5px;top:382px;font-size:10px;color:#333;font-weight:400;-webkit-text-stroke:0.45px #333;transform:translateY(-50%) scaleX(0.9650);">Days</span>
<span class="t" id="t69" style="left:301.5px;top:383px;font-size:10.2px;color:#555;font-weight:400;transform:translateY(-50%) scaleX(0.9432);">Last 30 days</span>
<span class="t" id="t70" style="left:384.5px;top:382px;font-size:10px;color:#333;font-weight:400;-webkit-text-stroke:0.45px #333;transform:translateY(-50%) scaleX(0.9960);">Entries</span>
<span class="t" id="t71" style="left:430px;top:383px;font-size:10.2px;color:#555;font-weight:400;transform:translateY(-50%) scaleX(0.8815);">10</span>
<span class="t" id="t72" style="left:486.5px;top:383px;font-size:10.2px;color:#444;font-weight:400;transform:translateY(-50%) scaleX(0.7052);">1</span>
<span class="t" id="t73" style="left:519.5px;top:93.6px;font-size:12.2px;color:#333;font-weight:400;-webkit-text-stroke:0.45px #333;transform:translateY(-50%) scaleX(0.9480);">My Calendar</span>
<span class="t" id="t74" style="left:855px;top:92.8px;font-size:7.8px;color:#444;font-weight:400;transform:translateY(-50%) scaleX(0.8810);">PTO</span>
<span class="t" id="t75" style="left:592.5px;top:119.7px;font-size:10px;color:#fff;font-weight:400;transform:translateY(-50%) scaleX(0.9930);">Today</span>
<span class="t" id="t76" style="left:685.7px;top:119.2px;font-size:10px;color:#222;font-weight:700;transform:translateY(-50%) scaleX(0.9404);">October 2024</span>
<span class="t" id="t77" style="left:812.5px;top:119.5px;font-size:10.3px;color:#fff;font-weight:400;transform:translateY(-50%) scaleX(1.0306);">Month</span>
<span class="t" id="t78" style="left:856px;top:119.5px;font-size:10.3px;color:#444;font-weight:400;transform:translateY(-50%) scaleX(0.9372);">Week</span>
<span class="t" id="t79" style="left:894.5px;top:119.5px;font-size:10.3px;color:#444;font-weight:400;transform:translateY(-50%) scaleX(0.9283);">Day</span>
<span class="t" id="t80" style="left:539.0px;top:145px;font-size:10.3px;color:#2a2a2a;font-weight:700;transform:translateY(-50%) scaleX(0.8996);-webkit-text-stroke:0.2px #2a2a2a;">Sun</span>
<span class="t" id="t81" style="left:594.75px;top:145px;font-size:10.3px;color:#2a2a2a;font-weight:700;transform:translateY(-50%) scaleX(0.9683);-webkit-text-stroke:0.2px #2a2a2a;">Mon</span>
<span class="t" id="t82" style="left:653.75px;top:145px;font-size:10.3px;color:#2a2a2a;font-weight:700;transform:translateY(-50%) scaleX(0.9403);-webkit-text-stroke:0.2px #2a2a2a;">Tue</span>
<span class="t" id="t83" style="left:708.5px;top:145px;font-size:10.3px;color:#2a2a2a;font-weight:700;transform:translateY(-50%) scaleX(0.9507);-webkit-text-stroke:0.2px #2a2a2a;">Wed</span>
<span class="t" id="t84" style="left:766.75px;top:145px;font-size:10.3px;color:#2a2a2a;font-weight:700;transform:translateY(-50%) scaleX(0.9272);-webkit-text-stroke:0.2px #2a2a2a;">Thu</span>
<span class="t" id="t85" style="left:826.25px;top:145px;font-size:10.3px;color:#2a2a2a;font-weight:700;transform:translateY(-50%) scaleX(0.9490);-webkit-text-stroke:0.2px #2a2a2a;">Fri</span>
<span class="t" id="t86" style="left:882.25px;top:145px;font-size:10.3px;color:#2a2a2a;font-weight:700;transform:translateY(-50%) scaleX(0.9357);-webkit-text-stroke:0.2px #2a2a2a;">Sat</span>
<span class="t" id="t87" style="left:561.8000000000001px;top:161.1px;font-size:10.2px;color:#c9c9c9;font-weight:400;transform:translateY(-50%) scaleX(0.9521);">29</span>
<span class="t" id="t88" style="left:618.8800000000001px;top:161.1px;font-size:10.2px;color:#c9c9c9;font-weight:400;transform:translateY(-50%) scaleX(0.9521);">30</span>
<span class="t" id="t89" style="left:681.46px;top:161.1px;font-size:10.2px;color:#555;font-weight:400;transform:translateY(-50%) scaleX(0.9344);">1</span>
<span class="t" id="t90" style="left:738.5400000000001px;top:161.1px;font-size:10.2px;color:#555;font-weight:400;transform:translateY(-50%) scaleX(0.9344);">2</span>
<span class="t" id="t91" style="left:795.6200000000001px;top:161.1px;font-size:10.2px;color:#2a4a70;font-weight:400;transform:translateY(-50%) scaleX(0.9344);">3</span>
<span class="t" id="t92" style="left:852.7px;top:161.1px;font-size:10.2px;color:#555;font-weight:400;transform:translateY(-50%) scaleX(0.9344);">4</span>
<span class="t" id="t93" style="left:909.7800000000001px;top:161.1px;font-size:10.2px;color:#555;font-weight:400;transform:translateY(-50%) scaleX(0.9344);">5</span>
<span class="t" id="t94" style="left:567.3000000000001px;top:207.9px;font-size:10.2px;color:#555;font-weight:400;transform:translateY(-50%) scaleX(0.9344);">6</span>
<span class="t" id="t95" style="left:624.3800000000001px;top:207.9px;font-size:10.2px;color:#555;font-weight:400;transform:translateY(-50%) scaleX(0.9344);">7</span>
<span class="t" id="t96" style="left:681.46px;top:207.9px;font-size:10.2px;color:#555;font-weight:400;transform:translateY(-50%) scaleX(0.9344);">8</span>
<span class="t" id="t97" style="left:738.5400000000001px;top:207.9px;font-size:10.2px;color:#555;font-weight:400;transform:translateY(-50%) scaleX(0.9344);">9</span>
<span class="t" id="t98" style="left:790.1200000000001px;top:207.9px;font-size:10.2px;color:#555;font-weight:400;transform:translateY(-50%) scaleX(0.9521);">10</span>
<span class="t" id="t99" style="left:847.2px;top:207.9px;font-size:10.2px;color:#555;font-weight:400;transform:translateY(-50%) scaleX(1.0210);">11</span>
<span class="t" id="t100" style="left:904.2800000000001px;top:207.9px;font-size:10.2px;color:#555;font-weight:400;transform:translateY(-50%) scaleX(0.9521);">12</span>
<span class="t" id="t101" style="left:561.8000000000001px;top:255.6px;font-size:10.2px;color:#555;font-weight:400;transform:translateY(-50%) scaleX(0.9521);">13</span>
<span class="t" id="t102" style="left:618.8800000000001px;top:255.6px;font-size:10.2px;color:#555;font-weight:400;transform:translateY(-50%) scaleX(0.9521);">14</span>
<span class="t" id="t103" style="left:675.96px;top:255.6px;font-size:10.2px;color:#555;font-weight:400;transform:translateY(-50%) scaleX(0.9521);">15</span>
<span class="t" id="t104" style="left:733.0400000000001px;top:255.6px;font-size:10.2px;color:#555;font-weight:400;transform:translateY(-50%) scaleX(0.9521);">16</span>
<span class="t" id="t105" style="left:790.1200000000001px;top:255.6px;font-size:10.2px;color:#555;font-weight:400;transform:translateY(-50%) scaleX(0.9521);">17</span>
<span class="t" id="t106" style="left:847.2px;top:255.6px;font-size:10.2px;color:#555;font-weight:400;transform:translateY(-50%) scaleX(0.9521);">18</span>
<span class="t" id="t107" style="left:904.2800000000001px;top:255.6px;font-size:10.2px;color:#555;font-weight:400;transform:translateY(-50%) scaleX(0.9521);">19</span>
<span class="t" id="t108" style="left:561.8000000000001px;top:303.3px;font-size:10.2px;color:#555;font-weight:400;transform:translateY(-50%) scaleX(0.9521);">20</span>
<span class="t" id="t109" style="left:618.8800000000001px;top:303.3px;font-size:10.2px;color:#555;font-weight:400;transform:translateY(-50%) scaleX(0.9521);">21</span>
<span class="t" id="t110" style="left:675.96px;top:303.3px;font-size:10.2px;color:#555;font-weight:400;transform:translateY(-50%) scaleX(0.9521);">22</span>
<span class="t" id="t111" style="left:733.0400000000001px;top:303.3px;font-size:10.2px;color:#555;font-weight:400;transform:translateY(-50%) scaleX(0.9521);">23</span>
<span class="t" id="t112" style="left:790.1200000000001px;top:303.3px;font-size:10.2px;color:#555;font-weight:400;transform:translateY(-50%) scaleX(0.9521);">24</span>
<span class="t" id="t113" style="left:847.2px;top:303.3px;font-size:10.2px;color:#555;font-weight:400;transform:translateY(-50%) scaleX(0.9521);">25</span>
<span class="t" id="t114" style="left:904.2800000000001px;top:303.3px;font-size:10.2px;color:#555;font-weight:400;transform:translateY(-50%) scaleX(0.9521);">26</span>
<span class="t" id="t115" style="left:561.8000000000001px;top:351.0px;font-size:10.2px;color:#555;font-weight:400;transform:translateY(-50%) scaleX(0.9521);">27</span>
<span class="t" id="t116" style="left:618.8800000000001px;top:351.0px;font-size:10.2px;color:#555;font-weight:400;transform:translateY(-50%) scaleX(0.9521);">28</span>
<span class="t" id="t117" style="left:675.96px;top:351.0px;font-size:10.2px;color:#555;font-weight:400;transform:translateY(-50%) scaleX(0.9521);">29</span>
<span class="t" id="t118" style="left:733.0400000000001px;top:351.0px;font-size:10.2px;color:#555;font-weight:400;transform:translateY(-50%) scaleX(0.9521);">30</span>
<span class="t" id="t119" style="left:790.1200000000001px;top:351.0px;font-size:10.2px;color:#555;font-weight:400;transform:translateY(-50%) scaleX(0.9521);">31</span>
<span class="t" id="t120" style="left:852.7px;top:351.0px;font-size:10.2px;color:#c9c9c9;font-weight:400;transform:translateY(-50%) scaleX(0.9344);">1</span>
<span class="t" id="t121" style="left:909.7800000000001px;top:351.0px;font-size:10.2px;color:#c9c9c9;font-weight:400;transform:translateY(-50%) scaleX(0.9344);">2</span>
<span class="t" id="t122" style="left:567.3000000000001px;top:398.70000000000005px;font-size:10.2px;color:#c9c9c9;font-weight:400;transform:translateY(-50%) scaleX(0.9344);">3</span>
<span class="t" id="t123" style="left:624.3800000000001px;top:398.70000000000005px;font-size:10.2px;color:#c9c9c9;font-weight:400;transform:translateY(-50%) scaleX(0.9344);">4</span>
<span class="t" id="t124" style="left:681.46px;top:398.70000000000005px;font-size:10.2px;color:#c9c9c9;font-weight:400;transform:translateY(-50%) scaleX(0.9344);">5</span>
<span class="t" id="t125" style="left:738.5400000000001px;top:398.70000000000005px;font-size:10.2px;color:#c9c9c9;font-weight:400;transform:translateY(-50%) scaleX(0.9344);">6</span>
<span class="t" id="t126" style="left:795.6200000000001px;top:398.70000000000005px;font-size:10.2px;color:#c9c9c9;font-weight:400;transform:translateY(-50%) scaleX(0.9344);">7</span>
<span class="t" id="t127" style="left:852.7px;top:398.70000000000005px;font-size:10.2px;color:#c9c9c9;font-weight:400;transform:translateY(-50%) scaleX(0.9344);">8</span>
<span class="t" id="t128" style="left:909.7800000000001px;top:398.70000000000005px;font-size:10.2px;color:#c9c9c9;font-weight:400;transform:translateY(-50%) scaleX(0.9344);">9</span>
</body></html>
